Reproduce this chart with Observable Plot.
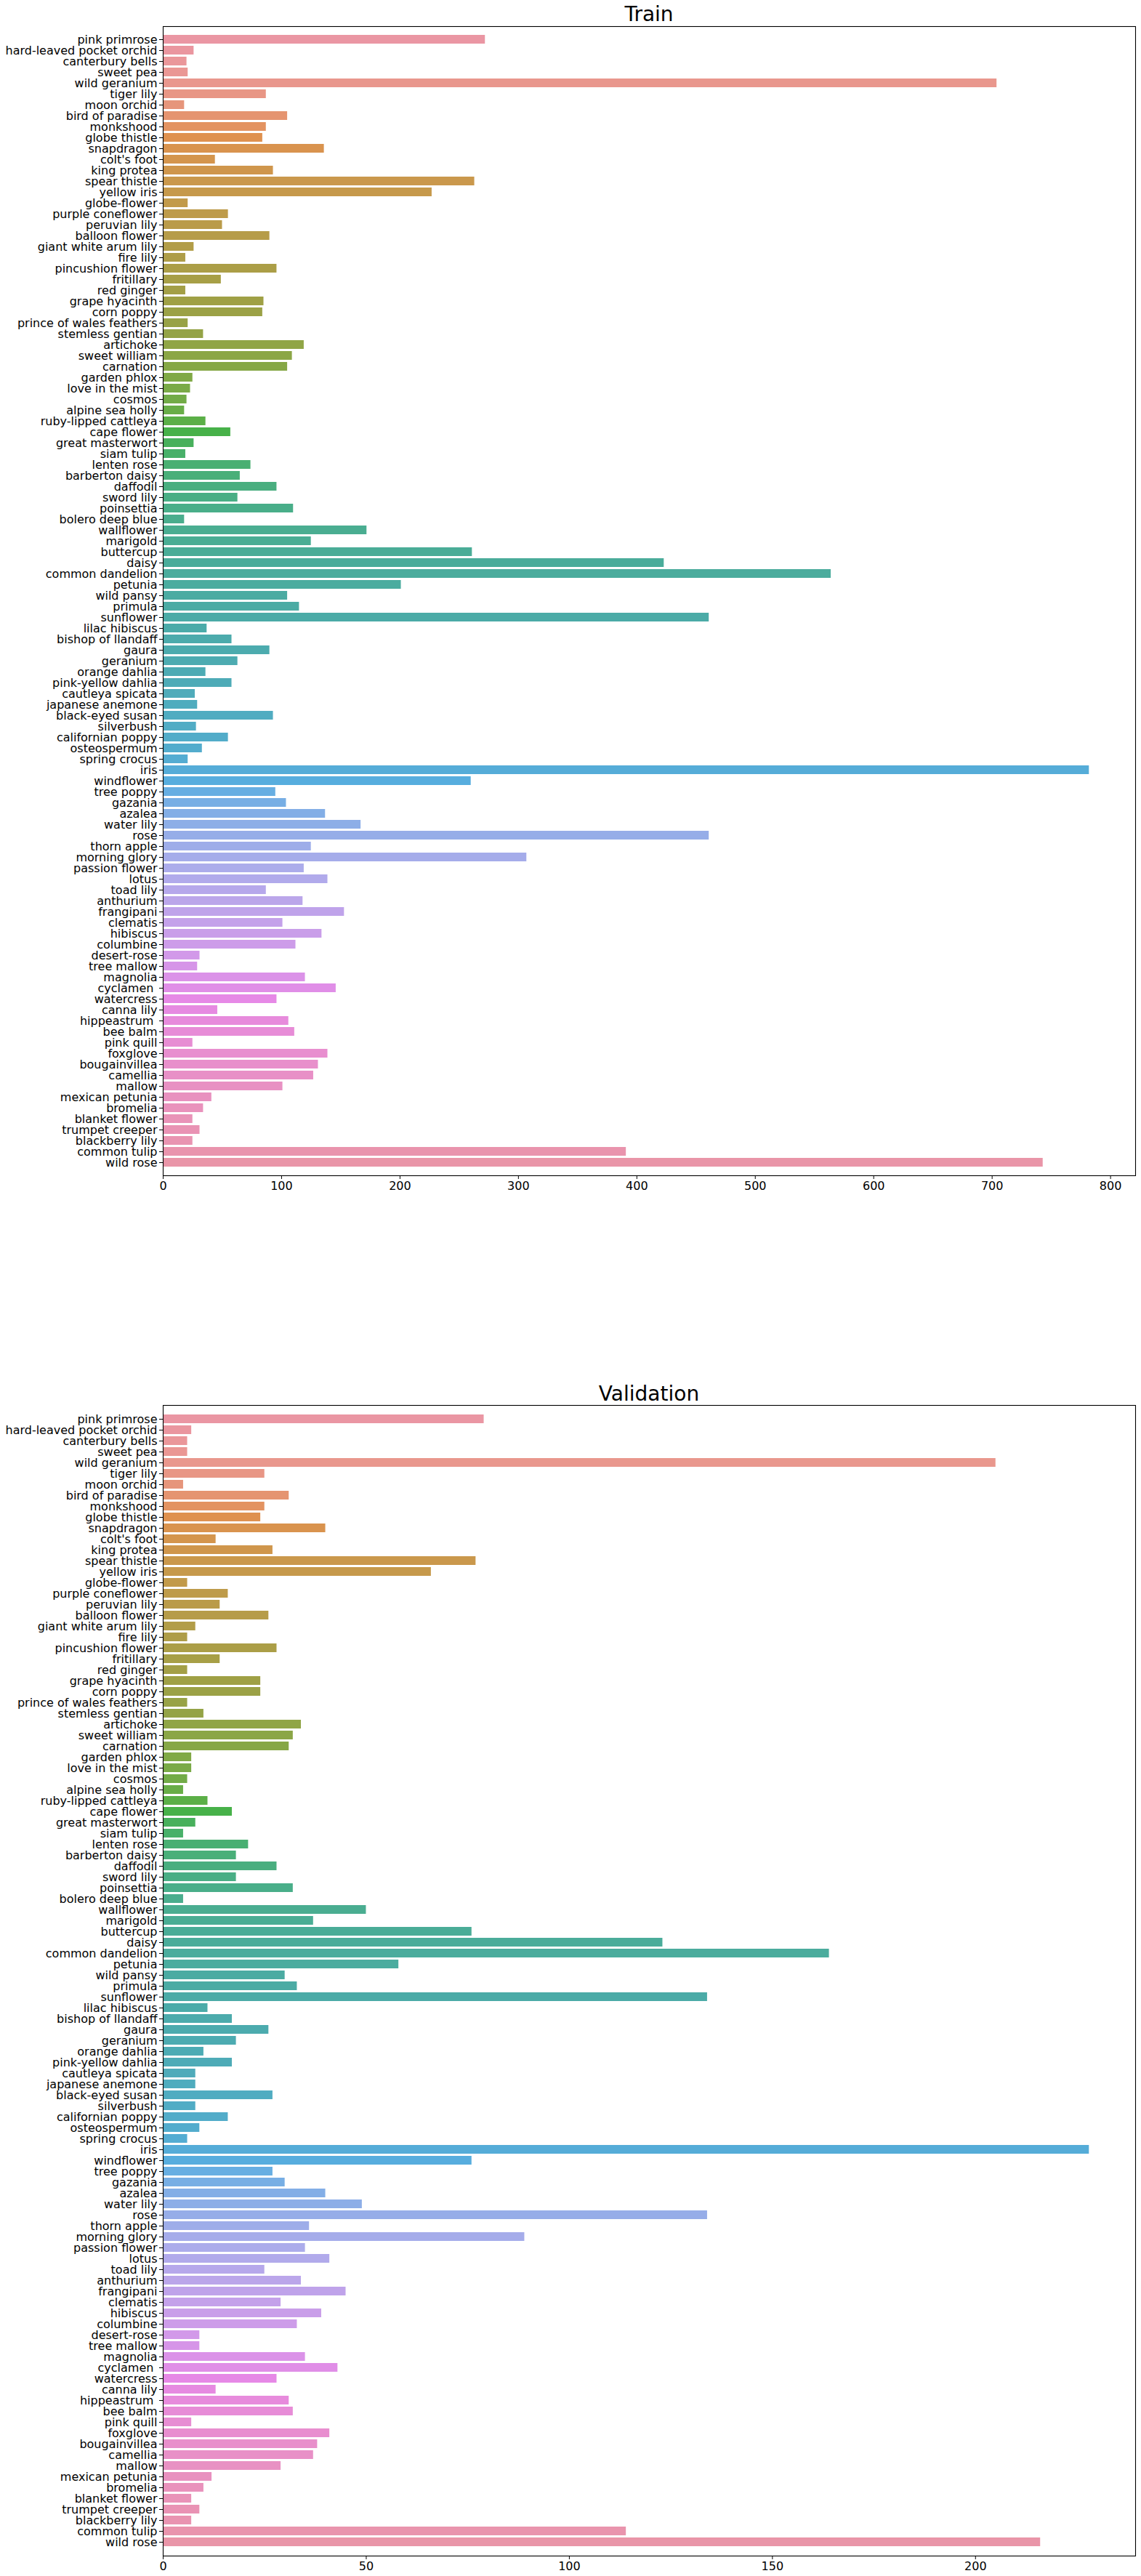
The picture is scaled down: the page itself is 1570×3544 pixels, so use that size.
<!DOCTYPE html>
<html><head><meta charset="utf-8">
<script src="https://cdn.jsdelivr.net/npm/d3@7"></script>
<script src="https://cdn.jsdelivr.net/npm/@observablehq/plot@0.6"></script>
<style>
html,body{margin:0;padding:0;background:#fff;overflow:hidden}
#root{position:relative;width:1570px;height:3544px;font-family:"DejaVu Sans",sans-serif}
.title{position:absolute;left:224px;width:1338px;text-align:center;font-size:28px;line-height:1;color:#000;font-family:"DejaVu Sans",sans-serif}
.chart{position:absolute;left:0}
svg text{white-space:pre}
</style></head><body><div id="root"></div><script>
const flowers = ["pink primrose","hard-leaved pocket orchid","canterbury bells","sweet pea","wild geranium","tiger lily","moon orchid","bird of paradise","monkshood","globe thistle","snapdragon","colt's foot","king protea","spear thistle","yellow iris","globe-flower","purple coneflower","peruvian lily","balloon flower","giant white arum lily","fire lily","pincushion flower","fritillary","red ginger","grape hyacinth","corn poppy","prince of wales feathers","stemless gentian","artichoke","sweet william","carnation","garden phlox","love in the mist","cosmos","alpine sea holly","ruby-lipped cattleya","cape flower","great masterwort","siam tulip","lenten rose","barberton daisy","daffodil","sword lily","poinsettia","bolero deep blue","wallflower","marigold","buttercup","daisy","common dandelion","petunia","wild pansy","primula","sunflower","lilac hibiscus","bishop of llandaff","gaura","geranium","orange dahlia","pink-yellow dahlia","cautleya spicata","japanese anemone","black-eyed susan","silverbush","californian poppy","osteospermum","spring crocus","iris","windflower","tree poppy","gazania","azalea","water lily","rose","thorn apple","morning glory","passion flower","lotus","toad lily","anthurium","frangipani","clematis","hibiscus","columbine","desert-rose","tree mallow","magnolia","cyclamen ","watercress","canna lily","hippeastrum ","bee balm","pink quill","foxglove","bougainvillea","camellia","mallow","mexican petunia","bromelia","blanket flower","trumpet creeper","blackberry lily","common tulip","wild rose"];

const trainCounts = [272,26,20,21,704,87,18,105,87,84,
 136,44,93,263,227,21,55,50,90,26,
 19,96,49,19,85,84,21,34,119,109,
 105,25,23,20,18,36,57,26,19,74,
 65,96,63,110,18,172,125,261,423,564,
 201,105,115,461,37,58,90,63,36,58,
 27,29,93,28,55,33,21,782,260,95,
 104,137,167,461,125,307,119,139,87,118,
 153,101,134,112,31,29,120,146,96,46,
 106,111,25,139,131,127,101,41,34,25,
 31,25,391,743];

const validCounts = [79,7,6,6,205,25,5,31,25,24,
 40,13,27,77,66,6,16,14,26,8,
 6,28,14,6,24,24,6,10,34,32,
 31,7,7,6,5,11,17,8,5,21,
 18,28,18,32,5,50,37,76,123,164,
 58,30,33,134,11,17,26,18,10,17,
 8,8,27,8,16,9,6,228,76,27,
 30,40,49,134,36,89,35,41,25,34,
 45,29,39,33,9,9,35,43,28,13,
 31,32,7,41,38,37,29,12,10,7,
 9,7,114,216];

const trainTicks = [0,100,200,300,400,500,600,700,800];
const validTicks = [0,50,100,150,200];
const titles = ["Train","Validation"];

// seaborn husl_palette(n, l=.7), desaturated to 0.75
const M = [[3.2406,-1.5372,-0.4986],[-0.9689,1.8758,0.0415],[0.0557,-0.2040,1.0570]];
function maxChroma(L,H){
  const hr=H*Math.PI/180, sinH=Math.sin(hr), cosH=Math.cos(hr);
  const sub1=Math.pow(L+16,3)/1560896, sub2=sub1>0.008856?sub1:L/903.3;
  let res=Infinity;
  for(const [m1,m2,m3] of M){
    const top=(0.99915*m1+1.05122*m2+1.14460*m3)*sub2;
    const rb=0.86330*m3-0.17266*m2, lb=0.12949*m3-0.38848*m1;
    const bottom=(rb*sinH+lb*cosH)*sub2;
    for(const t of [0,1]){const C=L*(top-1.05122*t)/(bottom+0.17266*sinH*t); if(C>0&&C<res)res=C;}
  }
  return res;
}
function fInv(t){const t3=t*t*t;return t3>0.008856?t3:(116*t-16)/903.3;}
function huslToRgb(H,S,L){
  const C=maxChroma(L,H)/100*S, hr=H*Math.PI/180;
  const U=Math.cos(hr)*C, V=Math.sin(hr)*C;
  const Y=fInv((L+16)/116), vu=U/(13*L)+0.19784, vv=V/(13*L)+0.46834;
  const X=-(9*Y*vu)/((vu-4)*vv-vu*vv);
  const Z=(9*Y-15*vv*Y-vv*X)/(3*vv);
  return M.map(r=>{const c=r[0]*X+r[1]*Y+r[2]*Z;const v=c<=0.0031308?12.92*c:1.055*Math.pow(c,1/2.4)-0.055;return Math.min(1,Math.max(0,v));});
}
const n = flowers.length;
const colors = flowers.map((_,i)=>{
  const h=((i/n+0.01)%1)*359;
  const [r,g,b]=huslToRgb(h,0.9*99,0.7*99);
  const c=d3.hsl(d3.rgb(r*255,g*255,b*255)); c.s*=0.75;
  return c.formatHex();
});

function chart(counts, ticks, height, marginBottom){
  const data = flowers.map((f,i)=>({name:f,value:counts[i],color:colors[i]}));
  const mx = d3.max(counts)*1.05;
  return Plot.plot({
    width:1570, height, marginLeft:224, marginRight:8, marginTop:6, marginBottom,
    style:{fontFamily:"DejaVu Sans",fontSize:"16px",color:"black",background:"white"},
    x:{domain:[0,mx], ticks, tickSize:5, tickPadding:3, label:null, tickFormat:d=>String(d)},
    y:{domain:flowers, paddingInner:0.2, paddingOuter:0.1, tickSize:5, tickPadding:3, label:null},
    color:{type:"identity"},
    marks:[
      Plot.barX(data,{x:"value",y:"name",fill:"color"}),
      Plot.frame({stroke:"black",strokeWidth:1.1})
    ]
  });
}
const root=document.getElementById("root");
function addTitle(text, top){const d=document.createElement("div");d.className="title";d.textContent=text;d.style.top=top+"px";root.appendChild(d);}
function addChart(svg, top){const w=document.createElement("div");w.className="chart";w.style.top=top+"px";w.appendChild(svg);root.appendChild(w);}
addTitle(titles[0], 6);
addChart(chart(trainCounts, trainTicks, 6+1581+40, 40), 30);
addTitle(titles[1], 1904);
addChart(chart(validCounts, validTicks, 6+1583+28, 28), 1927);
</script></body></html>
